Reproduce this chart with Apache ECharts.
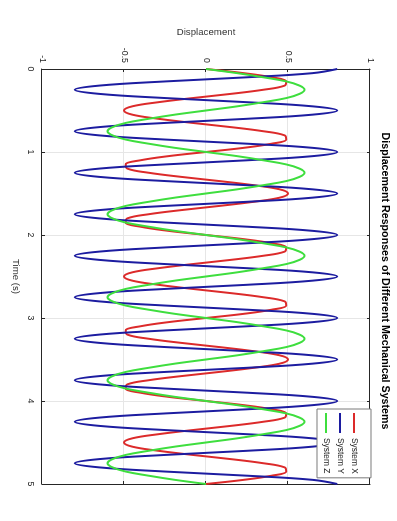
<!DOCTYPE html>
<html>
<head>
<meta charset="utf-8">
<script src="https://cdn.jsdelivr.net/npm/echarts@6/dist/echarts.min.js"></script>
<style>
  html, body { margin: 0; padding: 0; background: #fff; overflow: hidden; }
  /* chart drawn landscape, then turned a quarter clockwise like the reference */
  #chart {
    position: absolute; left: 0; top: 0;
    width: 521px; height: 397px;
    transform-origin: 0 0;
    transform: translate(397px, 0) rotate(90deg);
  }
</style>
</head>
<body>
<div id="chart"></div>
<script>
const seriesNames = ["System X", "System Y", "System Z"];
const colors = ["#dc2a2a", "#1c1ca0", "#3ede3e"];

// time samples (s)
const times = [
  0, 0.05, 0.1, 0.15, 0.2, 0.25, 0.3, 0.35, 0.4, 0.45,
  0.5, 0.55, 0.6, 0.65, 0.7, 0.75, 0.8, 0.85, 0.9, 0.95,
  1, 1.05, 1.1, 1.15, 1.2, 1.25, 1.3, 1.35, 1.4, 1.45,
  1.5, 1.55, 1.6, 1.65, 1.7, 1.75, 1.8, 1.85, 1.9, 1.95,
  2, 2.05, 2.1, 2.15, 2.2, 2.25, 2.3, 2.35, 2.4, 2.45,
  2.5, 2.55, 2.6, 2.65, 2.7, 2.75, 2.8, 2.85, 2.9, 2.95,
  3, 3.05, 3.1, 3.15, 3.2, 3.25, 3.3, 3.35, 3.4, 3.45,
  3.5, 3.55, 3.6, 3.65, 3.7, 3.75, 3.8, 3.85, 3.9, 3.95,
  4, 4.05, 4.1, 4.15, 4.2, 4.25, 4.3, 4.35, 4.4, 4.45,
  4.5, 4.55, 4.6, 4.65, 4.7, 4.75, 4.8, 4.85, 4.9, 4.95,
  5
];

const systemX = [
  0, 0.23, 0.4, 0.49, 0.48, 0.35, 0.15, -0.08, -0.29, -0.45,
  -0.5, -0.45, -0.29, -0.08, 0.15, 0.35, 0.48, 0.49, 0.4, 0.23,
  0, -0.23, -0.4, -0.49, -0.48, -0.35, -0.15, 0.08, 0.29, 0.45,
  0.5, 0.45, 0.29, 0.08, -0.15, -0.35, -0.48, -0.49, -0.4, -0.23,
  0, 0.23, 0.4, 0.49, 0.48, 0.35, 0.15, -0.08, -0.29, -0.45,
  -0.5, -0.45, -0.29, -0.08, 0.15, 0.35, 0.48, 0.49, 0.4, 0.23,
  0, -0.23, -0.4, -0.49, -0.48, -0.35, -0.15, 0.08, 0.29, 0.45,
  0.5, 0.45, 0.29, 0.08, -0.15, -0.35, -0.48, -0.49, -0.4, -0.23,
  0, 0.23, 0.4, 0.49, 0.48, 0.35, 0.15, -0.08, -0.29, -0.45,
  -0.5, -0.45, -0.29, -0.08, 0.15, 0.35, 0.48, 0.49, 0.4, 0.23,
  0
];

const systemY = [
  0.8, 0.65, 0.25, -0.25, -0.65, -0.8, -0.65, -0.25, 0.25, 0.65,
  0.8, 0.65, 0.25, -0.25, -0.65, -0.8, -0.65, -0.25, 0.25, 0.65,
  0.8, 0.65, 0.25, -0.25, -0.65, -0.8, -0.65, -0.25, 0.25, 0.65,
  0.8, 0.65, 0.25, -0.25, -0.65, -0.8, -0.65, -0.25, 0.25, 0.65,
  0.8, 0.65, 0.25, -0.25, -0.65, -0.8, -0.65, -0.25, 0.25, 0.65,
  0.8, 0.65, 0.25, -0.25, -0.65, -0.8, -0.65, -0.25, 0.25, 0.65,
  0.8, 0.65, 0.25, -0.25, -0.65, -0.8, -0.65, -0.25, 0.25, 0.65,
  0.8, 0.65, 0.25, -0.25, -0.65, -0.8, -0.65, -0.25, 0.25, 0.65,
  0.8, 0.65, 0.25, -0.25, -0.65, -0.8, -0.65, -0.25, 0.25, 0.65,
  0.8, 0.65, 0.25, -0.25, -0.65, -0.8, -0.65, -0.25, 0.25, 0.65,
  0.8
];

const systemZ = [
  0, 0.19, 0.35, 0.49, 0.57, 0.6, 0.57, 0.49, 0.35, 0.19,
  0, -0.19, -0.35, -0.49, -0.57, -0.6, -0.57, -0.49, -0.35, -0.19,
  0, 0.19, 0.35, 0.49, 0.57, 0.6, 0.57, 0.49, 0.35, 0.19,
  0, -0.19, -0.35, -0.49, -0.57, -0.6, -0.57, -0.49, -0.35, -0.19,
  0, 0.19, 0.35, 0.49, 0.57, 0.6, 0.57, 0.49, 0.35, 0.19,
  0, -0.19, -0.35, -0.49, -0.57, -0.6, -0.57, -0.49, -0.35, -0.19,
  0, 0.19, 0.35, 0.49, 0.57, 0.6, 0.57, 0.49, 0.35, 0.19,
  0, -0.19, -0.35, -0.49, -0.57, -0.6, -0.57, -0.49, -0.35, -0.19,
  0, 0.19, 0.35, 0.49, 0.57, 0.6, 0.57, 0.49, 0.35, 0.19,
  0, -0.19, -0.35, -0.49, -0.57, -0.6, -0.57, -0.49, -0.35, -0.19,
  0
];

const values = [systemX, systemY, systemZ];
const font = "Liberation Sans, Arial, sans-serif";
const axisColor = "#262626";

let chart = echarts.init(document.getElementById("chart"), null, { renderer: "canvas" });

function frameAxis(pos) {
  return {
    type: "value",
    position: pos,
    axisLine: { show: true, onZero: false, lineStyle: { color: axisColor, width: 1 } },
    axisTick: { show: true, inside: true, length: 3, lineStyle: { color: axisColor } },
    axisLabel: { show: false },
    splitLine: { show: false }
  };
}

const series = seriesNames.map((name, i) => ({
  type: "line",
  name: name,
  data: times.map((t, k) => [t, values[i][k]]),
  showSymbol: false,
  smooth: 0.4,
  lineStyle: { color: colors[i], width: 2 },
  itemStyle: { color: colors[i] }
}));

chart.setOption({
  animation: false,
  textStyle: { fontFamily: font },
  title: {
    text: "Displacement Responses of Different Mechanical Systems",
    left: 276,
    top: 2,
    textAlign: "center",
    textStyle: { fontFamily: font, fontSize: 10.7, fontWeight: "bold", color: "#000" }
  },
  grid: { left: 69, right: 37, top: 27, bottom: 42 },
  legend: {
    data: seriesNames,
    orient: "vertical",
    left: 409,
    top: 26,
    icon: "rect",
    itemWidth: 20,
    itemHeight: 2,
    itemGap: 4,
    padding: [12, 4, 4, 4],
    backgroundColor: "#fff",
    borderColor: "#7a7a7a",
    borderWidth: 1,
    textStyle: { fontFamily: font, fontSize: 8.4, color: "#222", lineHeight: 10 }
  },
  xAxis: [
    {
      type: "value",
      min: 0,
      max: 5,
      interval: 1,
      position: "bottom",
      name: "Time (s)",
      nameLocation: "middle",
      nameGap: 18,
      nameTextStyle: { fontFamily: font, fontSize: 9.7, color: "#333" },
      axisLine: { show: true, onZero: false, lineStyle: { color: axisColor, width: 1 } },
      axisTick: { show: true, inside: true, length: 3, lineStyle: { color: axisColor } },
      axisLabel: { fontFamily: font, fontSize: 8.8, color: axisColor, margin: 7 },
      splitLine: { show: true, lineStyle: { color: "#e6e6e6", width: 1 } }
    },
    Object.assign(frameAxis("top"), { min: 0, max: 5, interval: 1 })
  ],
  yAxis: [
    {
      type: "value",
      min: -1,
      max: 1,
      interval: 0.5,
      position: "left",
      name: "Displacement",
      nameLocation: "middle",
      nameRotate: 90,
      nameGap: 23,
      nameTextStyle: { fontFamily: font, fontSize: 9.7, color: "#333" },
      axisLine: { show: true, onZero: false, lineStyle: { color: axisColor, width: 1 } },
      axisTick: { show: true, inside: true, length: 3, lineStyle: { color: axisColor } },
      axisLabel: { fontFamily: font, fontSize: 8.8, color: axisColor, margin: 6 },
      splitLine: { show: true, lineStyle: { color: "#e6e6e6", width: 1 } }
    },
    Object.assign(frameAxis("right"), { min: -1, max: 1, interval: 0.5 })
  ],
  series: series
});
</script>
</body>
</html>
